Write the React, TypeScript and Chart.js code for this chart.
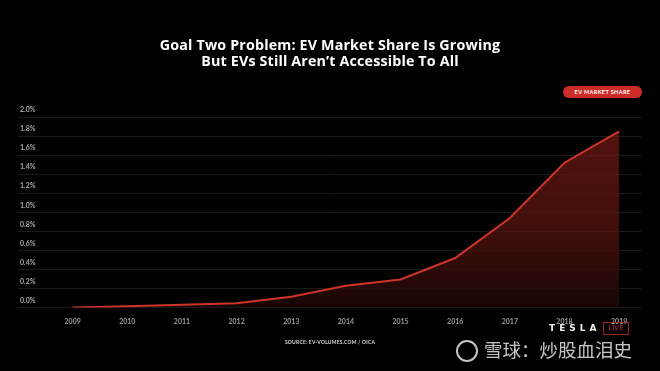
import React, { useEffect, useRef } from "react";
import { Chart, registerables } from "chart.js";

Chart.register(...registerables);

const years = [2009, 2010, 2011, 2012, 2013, 2014, 2015, 2016, 2017, 2018, 2019];
const evShare = [0.0, 0.015, 0.03, 0.045, 0.115, 0.23, 0.295, 0.52, 0.94, 1.52, 1.85];
const yTicks = [0, 0.2, 0.4, 0.6, 0.8, 1.0, 1.2, 1.4, 1.6, 1.8, 2.0];
const titleLines = ["Goal Two Problem: EV Market Share Is Growing", "But EVs Still Aren\u2019t Accessible To All"];
const legendLabel = "EV MARKET SHARE";
const sourceText = "SOURCE: EV-VOLUMES.COM / OICA";

export default function App() {
  const ref = useRef<HTMLCanvasElement>(null);
  useEffect(() => {
    document.body.style.margin = "0";
    document.body.style.background = "#000";
    const canvas = ref.current!;
    const chart = new Chart(canvas, {
      type: "line",
      data: {
        datasets: [
          {
            label: legendLabel,
            data: years.map((y, i) => ({ x: y, y: evShare[i] })),
            borderColor: "rgb(205,52,42)",
            borderWidth: 2,
            pointRadius: 0,
            tension: 0,
            fill: "origin",
            backgroundColor: (ctx: any) => {
              const { chart } = ctx;
              const area = chart.chartArea;
              if (!area) return "rgba(90,22,18,0.8)";
              const g = chart.ctx.createLinearGradient(0, area.top, 0, area.bottom);
              g.addColorStop(0, "rgba(110,24,18,0.78)");
              g.addColorStop(0.6, "rgba(82,19,14,0.78)");
              g.addColorStop(1, "rgba(25,6,5,0.88)");
              return g;
            },
          },
        ],
      },
      options: {
        animation: false,
        responsive: false,
        maintainAspectRatio: false,
        layout: { padding: { left: 14, right: 19, top: 117, bottom: 35 } },
        plugins: {
          legend: { display: false },
          tooltip: { enabled: false },
          title: { display: false },
        },
        scales: {
          x: {
            type: "linear",
            min: 2008,
            max: 2019.4,
            grid: { display: false, drawTicks: false },
            border: { display: false },
            afterBuildTicks: (scale: any) => {
              scale.ticks = years.map((v) => ({ value: v }));
            },
            ticks: {
              padding: 10,
              color: "#9a9a9a",
              font: { family: "Lato", weight: "bold", size: 7 },
              callback: (v: any) => String(v),
              maxRotation: 0,
              autoSkip: false,
            },
          },
          y: {
            min: 0,
            max: 2.0,
            grid: { color: "rgba(255,255,255,0.1)", drawTicks: false, lineWidth: 1 },
            border: { display: false },
            afterBuildTicks: (scale: any) => {
              scale.ticks = yTicks.map((v) => ({ value: v }));
            },
            ticks: {
              mirror: true,
              padding: 2,
              labelOffset: -7,
              color: "#a8a8a8",
              font: { family: "Lato", weight: "bold", size: 7 },
              callback: (v: any) => Number(v).toFixed(1) + "%",
            },
          },
        },
      },
    });
    return () => chart.destroy();
  }, []);

  return (
    <div style={{ position: "relative", width: 660, height: 371, background: "#000", overflow: "hidden", fontFamily: "Lato, sans-serif" }}>
      <canvas ref={ref} width={660} height={371} style={{ position: "absolute", left: 0, top: 0, width: 660, height: 371 }} />
      <div style={{ position: "absolute", left: 0, top: 37, width: 660, textAlign: "center", color: "#fff", fontFamily: "'Open Sans', sans-serif", fontWeight: 700, fontSize: 14.3, letterSpacing: 0.15, lineHeight: "16px" }}>
        <div>{titleLines[0]}</div>
        <div>{titleLines[1]}</div>
      </div>
      <div style={{ position: "absolute", left: 563, top: 86, width: 79, height: 12, borderRadius: 6, background: "rgb(205,45,40)", color: "#fff", fontSize: 5.5, fontWeight: 700, letterSpacing: 0.4, lineHeight: "12px", textAlign: "center" }}>
        {legendLabel}
      </div>
      <div style={{ position: "absolute", left: 0, top: 339, width: 660, textAlign: "center", color: "#ddd", fontSize: 5, fontWeight: 700, letterSpacing: 0.2 }}>
        {sourceText}
      </div>
      <div style={{ position: "absolute", left: 549, top: 323, color: "#eee", fontSize: 9, fontWeight: 700, letterSpacing: 4, fontFamily: "'DejaVu Sans', sans-serif" }}>
        TESLA
      </div>
      <div style={{ position: "absolute", left: 603, top: 322, width: 24, height: 11, border: "1px solid rgba(200,40,40,0.8)", color: "rgba(220,50,50,0.9)", fontSize: 7, lineHeight: "11px", textAlign: "center", fontFamily: "'DejaVu Sans', sans-serif" }}>
        LIVE
      </div>
      <div style={{ position: "absolute", left: 456, top: 337, color: "rgba(230,230,230,0.85)", fontSize: 18.5, lineHeight: "24px", fontFamily: "'Noto Sans CJK SC', sans-serif", whiteSpace: "nowrap" }}>
        <span style={{ display: "inline-block", width: 22, height: 22, borderRadius: 11, border: "2px solid rgba(230,230,230,0.85)", boxSizing: "border-box", verticalAlign: "-5px", marginRight: 6 }} />
        雪球：炒股血泪史
      </div>
    </div>
  );
}
